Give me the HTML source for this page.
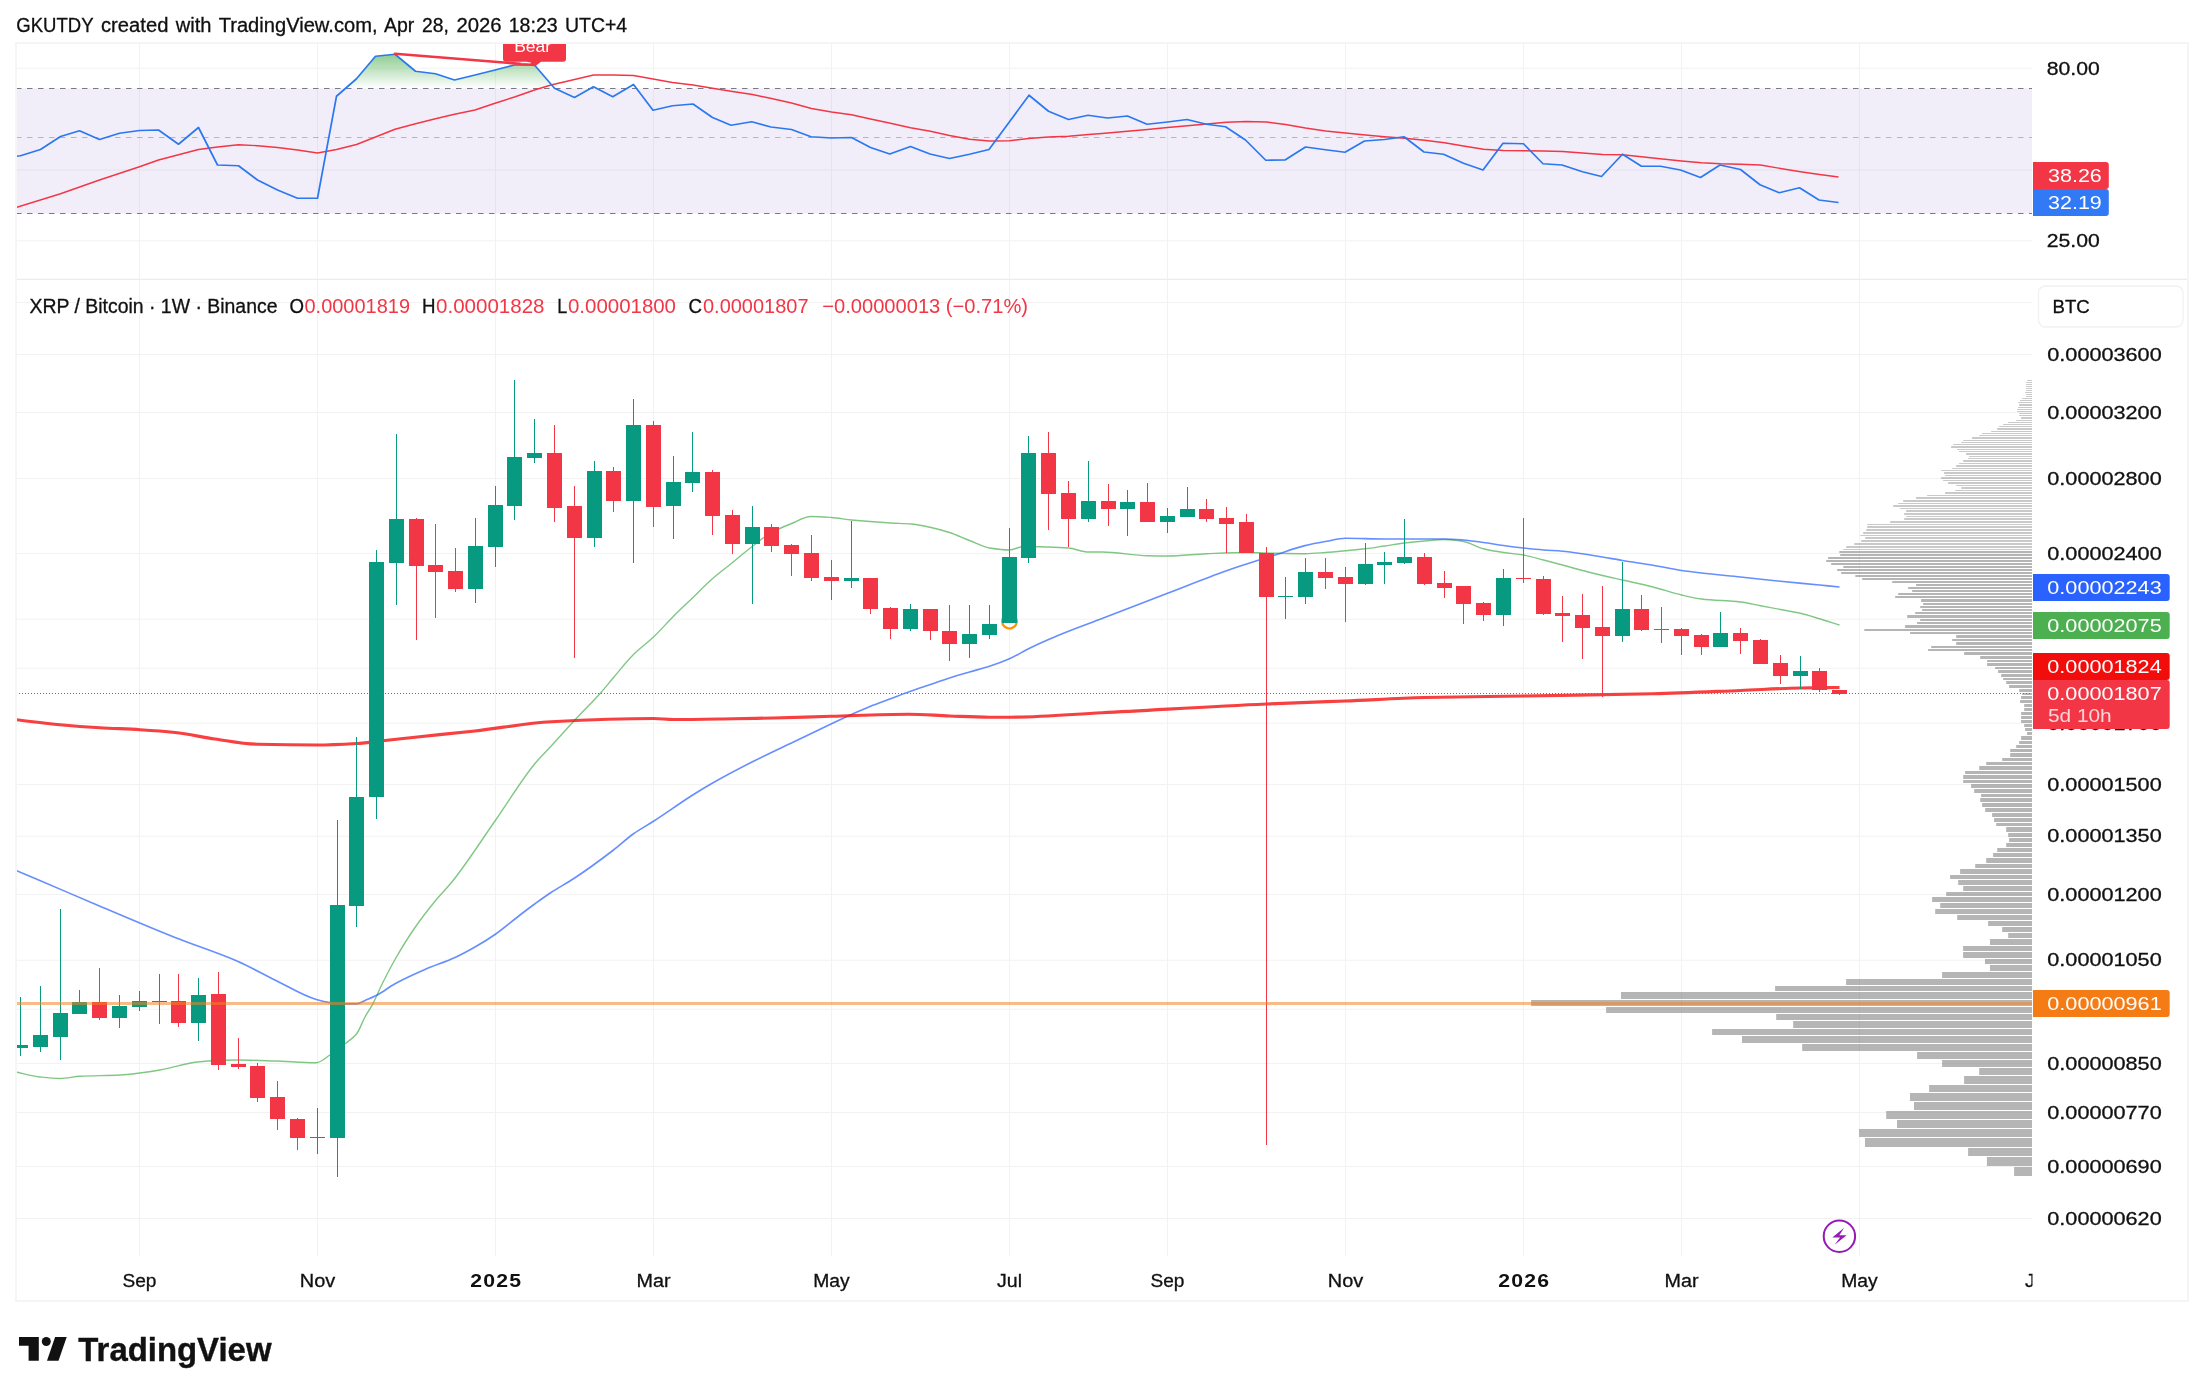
<!DOCTYPE html>
<html><head><meta charset="utf-8"><title>XRP / Bitcoin</title>
<style>html,body{margin:0;padding:0;background:#fff;overflow:hidden}svg{display:block;will-change:transform}</style></head>
<body>
<svg width="2204" height="1397" viewBox="0 0 2204 1397" font-family='"Liberation Sans", sans-serif'>
<defs>
<clipPath id="cpR"><rect x="16" y="43" width="2016" height="236"/></clipPath>
<clipPath id="cpM"><rect x="16" y="280" width="2016" height="977"/></clipPath>
<clipPath id="cpT"><rect x="16" y="1257" width="2016.5" height="43"/></clipPath>
<linearGradient id="gOB" gradientUnits="userSpaceOnUse" x1="0" y1="35" x2="0" y2="88.25"><stop offset="0" stop-color="#4caf50" stop-opacity="1"/><stop offset="1" stop-color="#4caf50" stop-opacity="0"/></linearGradient>
</defs>
<rect width="2204" height="1397" fill="#fff"/>
<g stroke="#f2f2f3" stroke-width="1">
<line x1="139.5" y1="44" x2="139.5" y2="1256.5"/>
<line x1="317.5" y1="44" x2="317.5" y2="1256.5"/>
<line x1="495.5" y1="44" x2="495.5" y2="1256.5"/>
<line x1="653.5" y1="44" x2="653.5" y2="1256.5"/>
<line x1="831.5" y1="44" x2="831.5" y2="1256.5"/>
<line x1="1009.5" y1="44" x2="1009.5" y2="1256.5"/>
<line x1="1167.5" y1="44" x2="1167.5" y2="1256.5"/>
<line x1="1345.5" y1="44" x2="1345.5" y2="1256.5"/>
<line x1="1523.5" y1="44" x2="1523.5" y2="1256.5"/>
<line x1="1681.5" y1="44" x2="1681.5" y2="1256.5"/>
<line x1="1859.5" y1="44" x2="1859.5" y2="1256.5"/>
<line x1="17" y1="68.25" x2="2032" y2="68.25"/>
<line x1="17" y1="170" x2="2032" y2="170"/>
<line x1="17" y1="240.75" x2="2032" y2="240.75"/>
<line x1="17" y1="302.5" x2="2032" y2="302.5"/>
<line x1="17" y1="354.5" x2="2032" y2="354.5"/>
<line x1="17" y1="412.5" x2="2032" y2="412.5"/>
<line x1="17" y1="478.5" x2="2032" y2="478.5"/>
<line x1="17" y1="553.5" x2="2032" y2="553.5"/>
<line x1="17" y1="619.25" x2="2032" y2="619.25"/>
<line x1="17" y1="668.25" x2="2032" y2="668.25"/>
<line x1="17" y1="723.25" x2="2032" y2="723.25"/>
<line x1="17" y1="784.5" x2="2032" y2="784.5"/>
<line x1="17" y1="836.25" x2="2032" y2="836.25"/>
<line x1="17" y1="894.5" x2="2032" y2="894.5"/>
<line x1="17" y1="960.25" x2="2032" y2="960.25"/>
<line x1="17" y1="1009.25" x2="2032" y2="1009.25"/>
<line x1="17" y1="1063.5" x2="2032" y2="1063.5"/>
<line x1="17" y1="1112.5" x2="2032" y2="1112.5"/>
<line x1="17" y1="1166.5" x2="2032" y2="1166.5"/>
<line x1="17" y1="1218.5" x2="2032" y2="1218.5"/>
</g>
<g clip-path="url(#cpR)">
<rect x="16" y="88.5" width="2016" height="125" fill="#7e57c2" fill-opacity="0.1"/>
<g stroke-width="1" stroke-dasharray="5.5 5.5" fill="none">
<line x1="16" y1="88.5" x2="2032" y2="88.5" stroke="#787b86"/>
<line x1="16" y1="137.5" x2="2032" y2="137.5" stroke="#787b86" stroke-opacity="0.5"/>
<line x1="16" y1="213.5" x2="2032" y2="213.5" stroke="#787b86"/>
</g>
<polygon points="345.643,88.25 356.5,78.75 375.5,56.25 395,54.25 415.5,71.25 435.5,73.75 454.5,80 475,75 495,70 514.5,65 534.5,65 554.5,88.25" fill="url(#gOB)"/>
<polygon points="590.849,88.25 593.5,86.75 596.388,88.25" fill="url(#gOB)"/>
<polygon points="627.148,88.25 633.5,84.5 636.34,88.25" fill="url(#gOB)"/>
<polyline points="16,207.5 60.5,193.75 99.5,180 139.5,166.75 158.5,160 198.5,149.5 217.5,147 238.5,144.75 257.5,145.75 277.5,147.5 297.5,150 317.5,153 336.5,149.5 356.5,144.5 375.5,137 395,129.25 415.5,123.75 435.5,118.75 454.5,114.25 475,110 495,103.25 514.5,97 534.5,90 551,85 574.5,79.5 593.5,75 613.5,75 633.5,75.5 653,79 672.5,82.5 693,85 712.5,88.25 732.5,91.5 752.5,94.5 771.5,98.5 791.5,103 811.5,108.5 831.5,112 851.5,114.75 870.5,119 890.5,123.25 910.5,127.75 930.5,131.25 949.5,135.5 969.5,139.25 989.5,141 1009.5,140.75 1028.5,138.5 1048.5,137 1068.5,136.25 1088.5,134.5 1102,133.5 1127.5,131.25 1147.5,129.5 1167.5,127.5 1187.5,125.75 1206.5,124 1226.5,122.25 1246.5,121.5 1266.5,122 1285.5,124.5 1305.5,128 1325.5,131 1345.5,133 1365.5,135 1384.5,136.75 1404.5,138.25 1424.5,140.25 1444.5,142.75 1463.5,146 1483.5,149.25 1503.5,150.5 1523.5,150.75 1543.5,151 1562.5,151.5 1582.5,153 1602.5,154.5 1622.5,154.75 1641.5,156.75 1653,158 1681.5,161 1701.5,162.75 1720.5,163.75 1740.5,164.25 1760.5,165 1780.5,168.5 1800.5,171.75 1819.5,174.5 1838.5,177" fill="none" stroke="#f23645" stroke-width="1.4" stroke-linejoin="round"/>
<polyline points="16,156.25 20.5,155.75 40.5,149.5 60.5,136.5 79.5,130.75 99.5,139.5 119.5,133.25 139.5,130.5 158.5,130 178.5,144.25 198.5,127.5 217.5,165 238.5,165.75 257.5,180 277.5,190 297.5,198.25 317.5,198.25 336.5,96.25 356.5,78.75 375.5,56.25 395,54.25 415.5,71.25 435.5,73.75 454.5,80 475,75 495,70 514.5,65 534.5,65 554.5,88.25 574.5,97.5 593.5,86.75 612.75,96.75 633.5,84.5 653,110.25 672.5,105.75 693,104 712.5,117.5 731,125.25 751.75,121.75 771,127 791.5,129.5 811,136.75 831.5,138 851.5,137.5 870.5,147.5 889.75,154 910.5,146.5 930,154 949.5,158.5 969.5,154.25 989,149.5 1009.5,121.75 1029,95.25 1048.5,111.25 1068.5,119.5 1088,115.25 1107.5,118 1127.5,116 1147,124.25 1167.5,122 1187,119.5 1206.5,124.25 1225.5,126.75 1245.5,140 1265.75,160.25 1285,160 1305.5,147 1325.5,149.75 1345,152.25 1364.5,141 1384.5,139.5 1404,136.75 1424,152 1443.5,154.25 1463.5,163.25 1483,170 1503,143.25 1523.5,143.75 1543,163.75 1562,165 1582.5,171.75 1601.5,176.5 1622.5,154.25 1641.5,166.25 1660.5,166.25 1680.5,170 1700.5,177.5 1720,165 1740.5,169.5 1760,184.75 1779.25,192.75 1799.5,187.75 1819,200 1838.5,202.5" fill="none" stroke="#2a78f0" stroke-width="1.7" stroke-linejoin="round"/>
<line x1="395" y1="53.8" x2="535" y2="65" stroke="#f23645" stroke-width="2.6" stroke-linecap="round"/>
<path d="M503 40 H566 V58.75 a3 3 0 0 1 -3 3 H541 L535.5 66 L527 61.75 H506 a3 3 0 0 1 -3 -3 Z" fill="#f23645"/>
<text x="514.2" y="51.5" font-size="17" fill="#fff" textLength="37" lengthAdjust="spacingAndGlyphs">Bear</text>
<rect x="520.7" y="62.2" width="10" height="1" fill="#fff" fill-opacity="0.85"/>
</g>
<g clip-path="url(#cpM)">
<path d="M2027.1 380H2032V381H2027.1ZM2026.1 382H2032V383H2026.1ZM2026.1 384H2032V385H2026.1ZM2026.1 386H2032V387H2026.1ZM2026.1 388H2032V389H2026.1ZM2026.1 390H2032V391H2026.1ZM2025.1 392H2032V393H2025.1ZM2026.1 394H2032V395H2026.1ZM2026.1 396H2032V397H2026.1ZM2022.2 398H2032V399H2022.2ZM2020.0 400H2032V401H2020.0ZM2018.2 402H2032V403H2018.2ZM2019.2 404H2032V406H2019.2ZM2018.2 407H2032V408H2018.2ZM2017.1 409H2032V410H2017.1ZM2017.1 411H2032V412H2017.1ZM2019.2 413H2032V414H2019.2ZM2019.2 415H2032V416H2019.2ZM2021.1 417H2032V419H2021.1ZM2016.2 420H2032V421H2016.2ZM2008.2 422H2032V423H2008.2ZM2003.1 424H2032V425H2003.1ZM1999.1 426H2032V427H1999.1ZM1997.2 428H2032V430H1997.2ZM1991.2 431H2032V432H1991.2ZM1982.1 433H2032V434H1982.1ZM1979.2 435H2032V436H1979.2ZM1972.1 437H2032V439H1972.1ZM1963.2 440H2032V441H1963.2ZM1961.2 442H2032V443H1961.2ZM1953.2 444H2032V445H1953.2ZM1951.2 446H2032V448H1951.2ZM1957.2 449H2032V450H1957.2ZM1959.1 451H2032V452H1959.1ZM1966.1 453H2032V455H1966.1ZM1969.2 456H2032V457H1969.2ZM1968.2 458H2032V459H1968.2ZM1963.2 460H2032V462H1963.2ZM1959.1 463H2032V464H1959.1ZM1956.2 465H2032V467H1956.2ZM1952.2 468H2032V469H1952.2ZM1941.2 470H2032V471H1941.2ZM1944.1 472H2032V474H1944.1ZM1945.1 475H2032V476H1945.1ZM1941.2 477H2032V479H1941.2ZM1943.1 480H2032V481H1943.1ZM1948.1 482H2032V484H1948.1ZM1956.2 485H2032V486H1956.2ZM1961.2 487H2032V489H1961.2ZM1955.2 490H2032V491H1955.2ZM1945.1 492H2032V494H1945.1ZM1927.1 495H2032V496H1927.1ZM1916.1 497H2032V499H1916.1ZM1903.2 500H2032V502H1903.2ZM1898.2 503H2032V504H1898.2ZM1893.2 505H2032V507H1893.2ZM1900.1 508H2032V509H1900.1ZM1906.2 510H2032V512H1906.2ZM1904.2 513H2032V515H1904.2ZM1906.2 516H2032V517H1906.2ZM1904.2 518H2032V520H1904.2ZM1890.2 521H2032V523H1890.2ZM1867.2 524H2032V525H1867.2ZM1867.2 526H2032V528H1867.2ZM1866.3 529H2032V531H1866.3ZM1863.2 532H2032V534H1863.2ZM1860.3 535H2032V536H1860.3ZM1865.2 537H2032V539H1865.2ZM1861.2 540H2032V542H1861.2ZM1854.3 543H2032V545H1854.3ZM1846.2 546H2032V548H1846.2ZM1843.3 549H2032V550H1843.3Z" fill="#848484" fill-opacity="0.44"/>
<path d="M1839.3 551H2032V553H1839.3ZM1840.2 554H2032V556H1840.2ZM1828.1 557H2032V559H1828.1ZM1826.2 560H2032V562H1826.2ZM1831.2 563H2032V565H1831.2ZM1843.3 566H2032V568H1843.3ZM1837.2 569H2032V571H1837.2ZM1841.2 572H2032V574H1841.2ZM1855.3 575H2032V577H1855.3ZM1862.2 578H2032V580H1862.2ZM1892.2 581H2032V583H1892.2ZM1916.1 584H2032V586H1916.1ZM1908.2 587H2032V589H1908.2ZM1912.2 590H2032V592H1912.2ZM1898.2 593H2032V595H1898.2ZM1895.2 596H2032V598H1895.2ZM1921.1 599H2032V602H1921.1ZM1923.1 603H2032V605H1923.1ZM1920.2 606H2032V608H1920.2ZM1922.1 609H2032V611H1922.1ZM1915.2 612H2032V614H1915.2ZM1907.2 615H2032V618H1907.2ZM1920.2 619H2032V621H1920.2ZM1917.1 622H2032V624H1917.1ZM1905.1 625H2032V628H1905.1ZM1864.3 629H2032V631H1864.3ZM1910.1 632H2032V634H1910.1ZM1956.2 635H2032V638H1956.2ZM1952.2 639H2032V641H1952.2ZM1956.2 642H2032V645H1956.2ZM1931.2 646H2032V648H1931.2ZM1928.1 649H2032V651H1928.1ZM1964.2 652H2032V655H1964.2ZM1980.2 656H2032V659H1980.2ZM1987.1 660H2032V662H1987.1ZM1987.1 663H2032V666H1987.1ZM1995.1 667H2032V669H1995.1ZM1998.1 670H2032V673H1998.1ZM2001.2 674H2032V677H2001.2ZM2003.1 678H2032V680H2003.1ZM2006.2 681H2032V684H2006.2ZM2009.1 685H2032V688H2009.1ZM2019.2 689H2032V692H2019.2ZM2022.2 693H2032V695H2022.2ZM2021.1 696H2032V699H2021.1ZM2020.1 700H2032V703H2020.1ZM2024.2 704H2032V707H2024.2ZM2024.2 708H2032V711H2024.2ZM2021.1 712H2032V715H2021.1ZM2021.1 716H2032V719H2021.1ZM2021.1 720H2032V723H2021.1ZM2024.2 724H2032V727H2024.2ZM2025.1 728H2032V731H2025.1ZM2027.1 732H2032V735H2027.1ZM2021.1 736H2032V740H2021.1ZM2019.2 741H2032V744H2019.2ZM2016.2 745H2032V748H2016.2ZM2010.2 749H2032V752H2010.2ZM2010.2 753H2032V757H2010.2ZM2002.2 758H2032V761H2002.2ZM1986.2 762H2032V765H1986.2ZM1979.2 766H2032V770H1979.2ZM1965.1 771H2032V774H1965.1ZM1963.2 775H2032V779H1963.2ZM1963.2 780H2032V783H1963.2ZM1971.1 784H2032V788H1971.1ZM1974.2 789H2032V793H1974.2ZM1981.1 794H2032V797H1981.1ZM1980.2 798H2032V802H1980.2ZM1982.1 803H2032V807H1982.1ZM1985.2 808H2032V812H1985.2ZM1992.1 813H2032V817H1992.1ZM1994.1 818H2032V822H1994.1ZM1996.2 823H2032V826H1996.2ZM2006.2 827H2032V832H2006.2ZM2008.2 833H2032V837H2008.2ZM2009.1 838H2032V842H2009.1ZM2006.2 843H2032V847H2006.2ZM1997.2 848H2032V852H1997.2ZM1993.1 853H2032V857H1993.1ZM1986.2 858H2032V863H1986.2ZM1975.2 864H2032V868H1975.2ZM1960.1 869H2032V874H1960.1ZM1950.1 875H2032V879H1950.1ZM1958.2 880H2032V885H1958.2ZM1963.2 886H2032V891H1963.2ZM1946.2 892H2032V896H1946.2ZM1932.1 897H2032V902H1932.1ZM1940.2 903H2032V908H1940.2ZM1935.2 909H2032V914H1935.2ZM1957.2 915H2032V920H1957.2ZM1988.1 921H2032V926H1988.1ZM2002.2 927H2032V932H2002.2ZM2008.2 933H2032V938H2008.2ZM1990.0 939H2032V945H1990.0ZM1963.1 946H2032V951H1963.1ZM1963.1 952H2032V958H1963.1ZM1985.0 959H2032V964H1985.0ZM1990.0 965H2032V971H1990.0ZM1942.1 972H2032V978H1942.1ZM1846.1 979H2032V985H1846.1ZM1775.1 986H2032V991H1775.1ZM1621.0 992H2032V999H1621.0ZM1531.1 1000H2032V1006H1531.1ZM1606.1 1007H2032V1013H1606.1ZM1776.2 1014H2032V1020H1776.2ZM1793.2 1021H2032V1028H1793.2ZM1712.1 1029H2032V1035H1712.1ZM1742.0 1036H2032V1043H1742.0ZM1802.2 1044H2032V1051H1802.2ZM1917.1 1052H2032V1059H1917.1ZM1942.1 1060H2032V1067H1942.1ZM1979.2 1068H2032V1075H1979.2ZM1964.1 1076H2032V1084H1964.1ZM1929.1 1085H2032V1092H1929.1ZM1910.0 1093H2032V1101H1910.0ZM1914.0 1102H2032V1110H1914.0ZM1886.2 1111H2032V1119H1886.2ZM1897.0 1120H2032V1128H1897.0ZM1859.1 1129H2032V1137H1859.1ZM1865.0 1138H2032V1147H1865.0ZM1968.1 1148H2032V1156H1968.1ZM1986.9 1157H2032V1166H1986.9ZM2014.1 1167H2032V1176H2014.1Z" fill="#848484" fill-opacity="0.6"/>
<path d="M16 1072C24.00 1073.67 32.00 1076.13 40 1077C46.67 1077.72 53.33 1078.50 60 1078.5C66.67 1078.50 73.33 1076.60 80 1076.25C93.33 1075.55 106.67 1075.67 120 1075C126.67 1074.66 133.33 1073.80 140 1073C146.67 1072.20 153.33 1071.15 160 1070C172.50 1067.84 185.00 1063.28 197.5 1062C204.50 1061.28 211.50 1060.77 218.5 1060.5C224.83 1060.26 231.17 1060.00 237.5 1060C250.00 1060.00 262.50 1060.59 275 1061C288.75 1061.45 302.50 1062.75 316.25 1062.75C320.83 1062.75 325.42 1057.94 330 1055C335.00 1051.79 340.00 1047.74 345 1043.75C348.83 1040.69 352.67 1038.66 356.5 1034C359.33 1030.56 362.17 1022.16 365 1017C367.57 1012.33 370.13 1008.91 372.7 1004.1C375.63 998.61 378.57 991.24 381.5 985.3C386.00 976.19 390.50 967.38 395 959.5C401.67 947.82 408.33 937.11 415 927.5C421.67 917.89 428.33 909.38 435 901.25C440.83 894.13 446.67 888.52 452.5 881.25C466.67 863.59 480.83 841.22 495 821C508.33 801.97 521.67 779.60 535 763.5C540.33 757.06 545.67 752.05 551 746.25C559.33 737.18 567.67 727.70 576 718.75C584.33 709.80 592.67 701.90 601 692.5C605.17 687.80 609.33 682.40 613.5 677.5C620.17 669.66 626.83 661.13 633.5 654.5C640.17 647.87 646.83 643.33 653.5 637C660.17 630.67 666.83 622.91 673.5 616.25C680.17 609.59 686.83 603.45 693.5 597C699.33 591.36 705.17 585.17 711 580C717.67 574.09 724.33 569.17 731 563.75C738.17 557.92 745.33 551.73 752.5 546.25C758.83 541.40 765.17 536.01 771.5 532.5C778.00 528.90 784.50 526.36 791 523.75C797.67 521.08 804.33 516.50 811 516.5C817.83 516.50 824.67 517.02 831.5 517.5C838.17 517.97 844.83 519.35 851.5 520C864.67 521.28 877.83 522.22 891 523C897.67 523.39 904.33 523.48 911 524C917.67 524.52 924.33 526.08 931 527.5C937.17 528.81 943.33 530.52 949.5 532.5C956.17 534.65 962.83 537.92 969.5 540.5C976.17 543.08 982.83 546.95 989.5 548C996.17 549.05 1002.83 550.00 1009.5 550C1014.17 550.00 1018.83 546.50 1023.5 546.5C1031.83 546.50 1040.17 546.76 1048.5 547C1055.17 547.19 1061.83 547.47 1068.5 548C1075.17 548.53 1081.83 552.00 1088.5 552C1093.00 552.00 1097.50 552.00 1102 552C1117.17 552.00 1132.33 555.45 1147.5 555.75C1154.17 555.88 1160.83 556.00 1167.5 556C1180.50 556.00 1193.50 554.28 1206.5 553.75C1219.83 553.21 1233.17 552.50 1246.5 552.5C1253.17 552.50 1259.83 552.85 1266.5 553C1279.50 553.29 1292.50 553.75 1305.5 553.75C1312.17 553.75 1318.83 552.99 1325.5 552.5C1332.17 552.01 1338.83 551.37 1345.5 550.75C1352.17 550.13 1358.83 549.54 1365.5 548.75C1371.83 548.00 1378.17 546.93 1384.5 546C1391.17 545.02 1397.83 543.80 1404.5 543C1411.17 542.20 1417.83 541.57 1424.5 541C1431.17 540.43 1437.83 539.50 1444.5 539.5C1450.83 539.50 1457.17 540.47 1463.5 541.5C1470.17 542.58 1476.83 547.10 1483.5 548.75C1490.17 550.40 1496.83 551.50 1503.5 552.5C1510.17 553.50 1516.83 553.89 1523.5 555C1530.17 556.11 1536.83 558.29 1543.5 560C1549.83 561.62 1556.17 563.30 1562.5 565C1569.17 566.79 1575.83 568.75 1582.5 570.5C1589.17 572.25 1595.83 573.92 1602.5 575.5C1609.17 577.08 1615.83 578.49 1622.5 580C1632.67 582.31 1642.83 584.43 1653 587C1662.50 589.40 1672.00 592.80 1681.5 595C1688.17 596.54 1694.83 598.22 1701.5 599C1714.50 600.52 1727.50 600.52 1740.5 602C1747.17 602.76 1753.83 604.50 1760.5 605.75C1767.17 607.00 1773.83 608.25 1780.5 609.5C1787.17 610.75 1793.83 611.73 1800.5 613.25C1806.83 614.69 1813.17 616.85 1819.5 618.75C1826.17 620.75 1832.83 622.92 1839.5 625" fill="none" stroke="#4caf50" stroke-opacity="0.7" stroke-width="1.4" stroke-linejoin="round"/>
<path d="M16 870.5C23.17 873.50 30.33 876.47 37.5 879.5C58.33 888.30 79.17 897.45 100 906.25C125.00 916.81 150.00 927.58 175 937.5C195.83 945.77 216.67 952.15 237.5 961.25C250.00 966.71 262.50 973.92 275 980C288.75 986.69 302.50 995.54 316.25 999.5C320.83 1000.82 325.42 1002.00 330 1002.6C334.67 1003.21 339.33 1003.90 344 1003.9C348.17 1003.90 352.33 1003.90 356.5 1003.9C359.40 1003.90 362.30 1001.64 365.2 1000.4C369.37 998.63 373.53 996.89 377.7 994.7C383.47 991.67 389.23 986.92 395 983.75C405.00 978.25 415.00 973.84 425 969.5C435.00 965.16 445.00 962.08 455 957.5C461.67 954.45 468.33 950.80 475 947C481.67 943.20 488.33 939.11 495 934.5C503.33 928.74 511.67 921.36 520 915C525.00 911.18 530.00 907.38 535 903.75C540.33 899.88 545.67 896.00 551 892.5C558.50 887.58 566.00 883.67 573.5 878.75C586.83 870.01 600.17 860.24 613.5 850C620.17 844.88 626.83 838.46 633.5 833.75C640.17 829.04 646.83 825.54 653.5 821.25C666.83 812.67 680.17 802.88 693.5 794.5C700.17 790.31 706.83 786.28 713.5 782.5C726.83 774.94 740.17 767.98 753.5 761.25C766.83 754.52 780.17 748.41 793.5 742C806.17 735.91 818.83 729.71 831.5 723.75C838.17 720.61 844.83 717.49 851.5 714.5C857.83 711.66 864.17 708.80 870.5 706.25C877.17 703.57 883.83 701.25 890.5 698.75C897.17 696.25 903.83 693.62 910.5 691.25C917.17 688.88 923.83 686.77 930.5 684.5C936.83 682.35 943.17 680.03 949.5 678C956.17 675.87 962.83 673.96 969.5 672C976.17 670.04 982.83 668.42 989.5 666.25C996.17 664.08 1002.83 661.67 1009.5 658.75C1015.83 655.97 1022.17 651.87 1028.5 648.75C1035.17 645.47 1041.83 642.41 1048.5 639.5C1055.17 636.59 1061.83 633.89 1068.5 631.25C1079.67 626.83 1090.83 622.86 1102 618.6C1123.83 610.27 1145.67 601.70 1167.5 593.3C1187.17 585.74 1206.83 577.58 1226.5 570.7C1237.33 566.91 1248.17 563.60 1259 560.1C1264.83 558.22 1270.67 556.35 1276.5 554.5C1285.67 551.60 1294.83 548.15 1304 545.9C1311.50 544.06 1319.00 542.63 1326.5 541.3C1332.83 540.18 1339.17 538.30 1345.5 538.3C1358.50 538.30 1371.50 539.00 1384.5 539C1397.83 539.00 1411.17 539.00 1424.5 539C1431.17 539.00 1437.83 539.00 1444.5 539C1450.83 539.00 1457.17 539.53 1463.5 540C1470.17 540.49 1476.83 541.59 1483.5 542.5C1490.17 543.41 1496.83 544.59 1503.5 545.5C1510.17 546.41 1516.83 547.26 1523.5 548C1530.17 548.74 1536.83 549.47 1543.5 550C1549.83 550.50 1556.17 550.71 1562.5 551.25C1569.17 551.82 1575.83 552.81 1582.5 553.75C1589.17 554.69 1595.83 555.88 1602.5 557C1609.17 558.12 1615.83 559.40 1622.5 560.5C1632.67 562.18 1642.83 563.53 1653 565.25C1662.50 566.85 1672.00 569.10 1681.5 570.5C1688.17 571.48 1694.83 572.24 1701.5 573C1714.50 574.48 1727.50 575.64 1740.5 577C1753.83 578.39 1767.17 579.90 1780.5 581.25C1793.50 582.56 1806.50 583.72 1819.5 585C1826.17 585.65 1832.83 586.33 1839.5 587" fill="none" stroke="#2962ff" stroke-opacity="0.72" stroke-width="1.6" stroke-linejoin="round"/>
<path d="M16 719.75C30.67 721.42 45.33 723.43 60 724.75C73.33 725.95 86.67 726.95 100 727.75C113.33 728.55 126.67 728.93 140 729.75C151.67 730.47 163.33 731.27 175 732.5C188.33 733.90 201.67 737.13 215 739C229.17 740.99 243.33 743.91 257.5 744.25C277.50 744.73 297.50 745.00 317.5 745C330.50 745.00 343.50 744.25 356.5 743.5C366.00 742.95 375.50 741.51 385 740.5C395.00 739.43 405.00 738.31 415 737.25C435.00 735.12 455.00 733.24 475 731C500.33 728.16 525.67 723.06 551 721.75C585.17 719.98 619.33 718.50 653.5 718.5C660.17 718.50 666.83 719.50 673.5 719.5C693.50 719.50 713.50 719.05 733.5 718.75C746.83 718.55 760.17 718.30 773.5 718C792.83 717.56 812.17 716.79 831.5 716.25C857.17 715.53 882.83 714.25 908.5 714.25C922.17 714.25 935.83 715.51 949.5 716C962.83 716.48 976.17 717.25 989.5 717.25C996.17 717.25 1002.83 717.25 1009.5 717.25C1040.33 717.25 1071.17 714.31 1102 712.75C1156.83 709.97 1211.67 706.38 1266.5 704C1292.83 702.86 1319.17 702.08 1345.5 701C1371.83 699.92 1398.17 698.11 1424.5 697.5C1457.50 696.74 1490.50 696.53 1523.5 696C1566.67 695.30 1609.83 694.80 1653 693.75C1682.17 693.04 1711.33 691.65 1740.5 690.5C1760.50 689.71 1780.50 688.38 1800.5 688C1813.50 687.75 1826.50 687.67 1839.5 687.5" fill="none" stroke="#f50a0a" stroke-opacity="0.78" stroke-width="3.2" stroke-linejoin="round"/>
<circle cx="1009.5" cy="621.3" r="7.3" fill="none" stroke="#ff9800" stroke-width="2.4"/>
<path d="M20 997h1V1056h-1ZM40 986h1V1052h-1ZM60 909h1V1060h-1ZM79 990h1V1014h-1ZM119 995h1V1028h-1ZM139 991h1V1011h-1ZM159 974h1V1024h-1ZM198 978h1V1041h-1ZM317 1108h1V1154h-1ZM337 820h1V1177h-1ZM356 737h1V927h-1ZM376 550h1V819h-1ZM396 434h1V605h-1ZM475 518h1V603h-1ZM495 486h1V567h-1ZM514 380h1V520h-1ZM534 419h1V463h-1ZM594 461h1V547h-1ZM633 399h1V563h-1ZM673 456h1V539h-1ZM692 432h1V492h-1ZM752 506h1V604h-1ZM851 521h1V588h-1ZM910 604h1V631h-1ZM969 605h1V658h-1ZM989 605h1V639h-1ZM1009 528h1V623h-1ZM1028 436h1V563h-1ZM1088 461h1V522h-1ZM1127 490h1V536h-1ZM1167 508h1V533h-1ZM1187 487h1V517h-1ZM1285 577h1V619h-1ZM1305 558h1V604h-1ZM1365 543h1V585h-1ZM1384 552h1V584h-1ZM1404 519h1V564h-1ZM1503 569h1V626h-1ZM1622 562h1V642h-1ZM1720 612h1V647h-1ZM1800 656h1V689h-1ZM13 1045h15V1048h-15ZM33 1035h15V1047h-15ZM53 1013h15V1037h-15ZM72 1002h15V1014h-15ZM112 1006h15V1018h-15ZM132 1001h15V1007h-15ZM152 1001h15V1002h-15ZM191 995h15V1023h-15ZM310 1137h15V1138h-15ZM330 905h15V1138h-15ZM349 797h15V906h-15ZM369 562h15V797h-15ZM389 519h15V563h-15ZM468 546h15V589h-15ZM488 505h15V547h-15ZM507 457h15V506h-15ZM527 453h15V458h-15ZM587 471h15V538h-15ZM626 425h15V501h-15ZM666 482h15V506h-15ZM685 472h15V483h-15ZM745 527h15V544h-15ZM844 578h15V581h-15ZM903 609h15V629h-15ZM962 634h15V644h-15ZM982 624h15V635h-15ZM1002 557h15V623h-15ZM1021 453h15V558h-15ZM1081 501h15V519h-15ZM1120 502h15V509h-15ZM1160 516h15V522h-15ZM1180 509h15V517h-15ZM1278 596h15V597h-15ZM1298 572h15V597h-15ZM1358 564h15V584h-15ZM1377 562h15V565h-15ZM1397 557h15V563h-15ZM1496 578h15V615h-15ZM1615 609h15V636h-15ZM1713 633h15V647h-15ZM1793 671h15V676h-15Z" fill="#089981"/>
<path d="M99 968h1V1020h-1ZM178 974h1V1027h-1ZM218 972h1V1070h-1ZM238 1038h1V1069h-1ZM257 1063h1V1102h-1ZM277 1081h1V1130h-1ZM297 1118h1V1150h-1ZM416 518h1V640h-1ZM435 524h1V618h-1ZM455 548h1V592h-1ZM554 425h1V522h-1ZM574 486h1V658h-1ZM613 467h1V512h-1ZM653 421h1V527h-1ZM712 470h1V535h-1ZM732 510h1V554h-1ZM771 524h1V552h-1ZM791 544h1V576h-1ZM811 535h1V581h-1ZM831 560h1V600h-1ZM870 578h1V614h-1ZM890 607h1V639h-1ZM930 609h1V640h-1ZM949 605h1V661h-1ZM1048 432h1V530h-1ZM1068 481h1V547h-1ZM1108 484h1V526h-1ZM1147 483h1V522h-1ZM1206 499h1V522h-1ZM1226 507h1V553h-1ZM1246 514h1V553h-1ZM1266 547h1V1145h-1ZM1325 558h1V589h-1ZM1345 567h1V622h-1ZM1424 553h1V585h-1ZM1444 571h1V598h-1ZM1463 586h1V624h-1ZM1483 602h1V621h-1ZM1523 518h1V583h-1ZM1543 576h1V615h-1ZM1562 596h1V642h-1ZM1582 594h1V659h-1ZM1602 586h1V697h-1ZM1641 595h1V631h-1ZM1661 607h1V643h-1ZM1681 628h1V655h-1ZM1701 634h1V655h-1ZM1740 628h1V654h-1ZM1760 639h1V664h-1ZM1780 655h1V684h-1ZM1819 668h1V692h-1ZM1839 690h1V695h-1ZM92 1002h15V1018h-15ZM171 1001h15V1023h-15ZM211 994h15V1065h-15ZM231 1064h15V1067h-15ZM250 1066h15V1098h-15ZM270 1097h15V1119h-15ZM290 1119h15V1138h-15ZM409 519h15V566h-15ZM428 565h15V572h-15ZM448 571h15V589h-15ZM547 453h15V508h-15ZM567 506h15V538h-15ZM606 471h15V501h-15ZM646 425h15V507h-15ZM705 472h15V516h-15ZM725 515h15V544h-15ZM764 527h15V546h-15ZM784 545h15V554h-15ZM804 553h15V578h-15ZM824 577h15V581h-15ZM863 578h15V609h-15ZM883 608h15V629h-15ZM923 609h15V631h-15ZM942 631h15V644h-15ZM1041 453h15V494h-15ZM1061 493h15V519h-15ZM1101 501h15V509h-15ZM1140 502h15V522h-15ZM1199 509h15V519h-15ZM1219 518h15V524h-15ZM1239 522h15V553h-15ZM1259 553h15V597h-15ZM1318 572h15V578h-15ZM1338 577h15V584h-15ZM1417 557h15V584h-15ZM1437 583h15V588h-15ZM1456 586h15V604h-15ZM1476 603h15V615h-15ZM1516 578h15V579h-15ZM1536 579h15V614h-15ZM1555 613h15V616h-15ZM1575 615h15V628h-15ZM1595 627h15V636h-15ZM1634 609h15V630h-15ZM1654 629h15V630h-15ZM1674 629h15V636h-15ZM1694 635h15V647h-15ZM1733 633h15V641h-15ZM1753 640h15V664h-15ZM1773 663h15V676h-15ZM1812 671h15V690h-15ZM1832 690h15V694h-15Z" fill="#f23645"/>
<line x1="16" y1="693.5" x2="2032" y2="693.5" stroke="#f23645" stroke-width="1" stroke-dasharray="1 2"/>
<rect x="16" y="1002" width="2016" height="3" fill="#f58220" fill-opacity="0.55"/>
</g>
<text x="29.5" y="312.5" font-size="20" fill="#101010" textLength="248" lengthAdjust="spacingAndGlyphs" stroke="#101010" stroke-width="0.3">XRP / Bitcoin · 1W · Binance</text>
<text x="289.5" y="312.5" font-size="20" fill="#101010" textLength="14.5" lengthAdjust="spacingAndGlyphs" stroke="#101010" stroke-width="0.3">O</text>
<text x="304.5" y="312.5" font-size="20" fill="#f23645" textLength="105.5" lengthAdjust="spacingAndGlyphs">0.00001819</text>
<text x="422" y="312.5" font-size="20" fill="#101010" textLength="13.5" lengthAdjust="spacingAndGlyphs" stroke="#101010" stroke-width="0.3">H</text>
<text x="436" y="312.5" font-size="20" fill="#f23645" textLength="108.5" lengthAdjust="spacingAndGlyphs">0.00001828</text>
<text x="557.25" y="312.5" font-size="20" fill="#101010" textLength="10" lengthAdjust="spacingAndGlyphs" stroke="#101010" stroke-width="0.3">L</text>
<text x="568" y="312.5" font-size="20" fill="#f23645" textLength="108" lengthAdjust="spacingAndGlyphs">0.00001800</text>
<text x="688.5" y="312.5" font-size="20" fill="#101010" textLength="13.5" lengthAdjust="spacingAndGlyphs" stroke="#101010" stroke-width="0.3">C</text>
<text x="703" y="312.5" font-size="20" fill="#f23645" textLength="105.5" lengthAdjust="spacingAndGlyphs">0.00001807</text>
<text x="822.25" y="312.5" font-size="20" fill="#f23645" textLength="205.75" lengthAdjust="spacingAndGlyphs">−0.00000013 (−0.71%)</text>
<text x="16.3" y="32.3" font-size="20" fill="#101010" textLength="77.2" lengthAdjust="spacingAndGlyphs" stroke="#101010" stroke-width="0.3">GKUTDY</text>
<text x="101" y="32.3" font-size="20" fill="#101010" textLength="67.4" lengthAdjust="spacingAndGlyphs" stroke="#101010" stroke-width="0.3">created</text>
<text x="175.7" y="32.3" font-size="20" fill="#101010" textLength="35.7" lengthAdjust="spacingAndGlyphs" stroke="#101010" stroke-width="0.3">with</text>
<text x="218.7" y="32.3" font-size="20" fill="#101010" textLength="158.8" lengthAdjust="spacingAndGlyphs" stroke="#101010" stroke-width="0.3">TradingView.com,</text>
<text x="384" y="32.3" font-size="20" fill="#101010" textLength="30.3" lengthAdjust="spacingAndGlyphs" stroke="#101010" stroke-width="0.3">Apr</text>
<text x="422" y="32.3" font-size="20" fill="#101010" textLength="26.8" lengthAdjust="spacingAndGlyphs" stroke="#101010" stroke-width="0.3">28,</text>
<text x="456.4" y="32.3" font-size="20" fill="#101010" textLength="45.1" lengthAdjust="spacingAndGlyphs" stroke="#101010" stroke-width="0.3">2026</text>
<text x="508.7" y="32.3" font-size="20" fill="#101010" textLength="49" lengthAdjust="spacingAndGlyphs" stroke="#101010" stroke-width="0.3">18:23</text>
<text x="565" y="32.3" font-size="20" fill="#101010" textLength="62.2" lengthAdjust="spacingAndGlyphs" stroke="#101010" stroke-width="0.3">UTC+4</text>
<text x="2047.3" y="360.723" font-size="18.5" fill="#101010" textLength="114.4" lengthAdjust="spacingAndGlyphs" stroke="#101010" stroke-width="0.3">0.00003600</text>
<text x="2047.3" y="418.723" font-size="18.5" fill="#101010" textLength="114.4" lengthAdjust="spacingAndGlyphs" stroke="#101010" stroke-width="0.3">0.00003200</text>
<text x="2047.3" y="484.723" font-size="18.5" fill="#101010" textLength="114.4" lengthAdjust="spacingAndGlyphs" stroke="#101010" stroke-width="0.3">0.00002800</text>
<text x="2047.3" y="559.723" font-size="18.5" fill="#101010" textLength="114.4" lengthAdjust="spacingAndGlyphs" stroke="#101010" stroke-width="0.3">0.00002400</text>
<text x="2047.3" y="730.223" font-size="18.5" fill="#101010" textLength="114.4" lengthAdjust="spacingAndGlyphs" stroke="#101010" stroke-width="0.3">0.00001700</text>
<text x="2047.3" y="790.723" font-size="18.5" fill="#101010" textLength="114.4" lengthAdjust="spacingAndGlyphs" stroke="#101010" stroke-width="0.3">0.00001500</text>
<text x="2047.3" y="842.473" font-size="18.5" fill="#101010" textLength="114.4" lengthAdjust="spacingAndGlyphs" stroke="#101010" stroke-width="0.3">0.00001350</text>
<text x="2047.3" y="900.723" font-size="18.5" fill="#101010" textLength="114.4" lengthAdjust="spacingAndGlyphs" stroke="#101010" stroke-width="0.3">0.00001200</text>
<text x="2047.3" y="966.473" font-size="18.5" fill="#101010" textLength="114.4" lengthAdjust="spacingAndGlyphs" stroke="#101010" stroke-width="0.3">0.00001050</text>
<text x="2047.3" y="1069.72" font-size="18.5" fill="#101010" textLength="114.4" lengthAdjust="spacingAndGlyphs" stroke="#101010" stroke-width="0.3">0.00000850</text>
<text x="2047.3" y="1118.72" font-size="18.5" fill="#101010" textLength="114.4" lengthAdjust="spacingAndGlyphs" stroke="#101010" stroke-width="0.3">0.00000770</text>
<text x="2047.3" y="1172.72" font-size="18.5" fill="#101010" textLength="114.4" lengthAdjust="spacingAndGlyphs" stroke="#101010" stroke-width="0.3">0.00000690</text>
<text x="2047.3" y="1224.72" font-size="18.5" fill="#101010" textLength="114.4" lengthAdjust="spacingAndGlyphs" stroke="#101010" stroke-width="0.3">0.00000620</text>
<text x="2046.75" y="75.123" font-size="18.5" fill="#101010" textLength="53" lengthAdjust="spacingAndGlyphs" stroke="#101010" stroke-width="0.3">80.00</text>
<text x="2046.75" y="247.373" font-size="18.5" fill="#101010" textLength="53" lengthAdjust="spacingAndGlyphs" stroke="#101010" stroke-width="0.3">25.00</text>
<path d="M2033 162H2105.8a3 3 0 0 1 3 3V186a3 3 0 0 1 -3 3H2033Z" fill="#f23645"/>
<text x="2048" y="181.923" font-size="18.5" fill="#fff" textLength="53.8" lengthAdjust="spacingAndGlyphs">38.26</text>
<path d="M2033 189H2105.8a3 3 0 0 1 3 3V213a3 3 0 0 1 -3 3H2033Z" fill="#3179f5"/>
<text x="2048" y="208.923" font-size="18.5" fill="#fff" textLength="53.8" lengthAdjust="spacingAndGlyphs">32.19</text>
<path d="M2033 574H2166.7a3 3 0 0 1 3 3V598a3 3 0 0 1 -3 3H2033Z" fill="#2962ff"/>
<text x="2047.3" y="593.723" font-size="18.5" fill="#fff" textLength="114.4" lengthAdjust="spacingAndGlyphs">0.00002243</text>
<path d="M2033 612H2166.7a3 3 0 0 1 3 3V636a3 3 0 0 1 -3 3H2033Z" fill="#4caf50"/>
<text x="2047.3" y="631.723" font-size="18.5" fill="#fff" textLength="114.4" lengthAdjust="spacingAndGlyphs">0.00002075</text>
<path d="M2033 653H2166.7a3 3 0 0 1 3 3V677a3 3 0 0 1 -3 3H2033Z" fill="#f20d0d"/>
<text x="2047.3" y="672.723" font-size="18.5" fill="#fff" textLength="114.4" lengthAdjust="spacingAndGlyphs">0.00001824</text>
<path d="M2033 680H2166.7a3 3 0 0 1 3 3V725.9a3 3 0 0 1 -3 3H2033Z" fill="#f23645"/>
<text x="2047.3" y="699.723" font-size="18.5" fill="#fff" textLength="114.4" lengthAdjust="spacingAndGlyphs">0.00001807</text>
<text x="2048" y="722.123" font-size="18.5" fill="#fff" textLength="63.7" lengthAdjust="spacingAndGlyphs" fill-opacity="0.8">5d 10h</text>
<path d="M2033 990H2166.7a3 3 0 0 1 3 3V1014a3 3 0 0 1 -3 3H2033Z" fill="#f57c14"/>
<text x="2047.3" y="1009.72" font-size="18.5" fill="#fff" textLength="114.4" lengthAdjust="spacingAndGlyphs">0.00000961</text>
<rect x="2038.5" y="286" width="144.5" height="41" rx="7" fill="#fff" stroke="#f0f1f3" stroke-width="1.3"/>
<text x="2052.6" y="313" font-size="18.5" fill="#101010" textLength="37.2" lengthAdjust="spacingAndGlyphs" stroke="#101010" stroke-width="0.3">BTC</text>
<g clip-path="url(#cpT)">
<text x="122.5" y="1287" font-size="18" fill="#101010" textLength="34" lengthAdjust="spacingAndGlyphs" stroke="#101010" stroke-width="0.3">Sep</text>
<text x="299.75" y="1287" font-size="18" fill="#101010" textLength="35.5" lengthAdjust="spacingAndGlyphs" stroke="#101010" stroke-width="0.3">Nov</text>
<text x="636.5" y="1287" font-size="18" fill="#101010" textLength="34" lengthAdjust="spacingAndGlyphs" stroke="#101010" stroke-width="0.3">Mar</text>
<text x="813.25" y="1287" font-size="18" fill="#101010" textLength="36.5" lengthAdjust="spacingAndGlyphs" stroke="#101010" stroke-width="0.3">May</text>
<text x="997" y="1287" font-size="18" fill="#101010" textLength="25" lengthAdjust="spacingAndGlyphs" stroke="#101010" stroke-width="0.3">Jul</text>
<text x="1150.5" y="1287" font-size="18" fill="#101010" textLength="34" lengthAdjust="spacingAndGlyphs" stroke="#101010" stroke-width="0.3">Sep</text>
<text x="1327.75" y="1287" font-size="18" fill="#101010" textLength="35.5" lengthAdjust="spacingAndGlyphs" stroke="#101010" stroke-width="0.3">Nov</text>
<text x="1664.5" y="1287" font-size="18" fill="#101010" textLength="34" lengthAdjust="spacingAndGlyphs" stroke="#101010" stroke-width="0.3">Mar</text>
<text x="1841.25" y="1287" font-size="18" fill="#101010" textLength="36.5" lengthAdjust="spacingAndGlyphs" stroke="#101010" stroke-width="0.3">May</text>
<text x="2025" y="1287" font-size="18" fill="#101010" textLength="25" lengthAdjust="spacingAndGlyphs" stroke="#101010" stroke-width="0.3">Jul</text>
<text transform="translate(470.2 1287) scale(1.14 1)" font-size="18.6" font-weight="bold" fill="#101010" letter-spacing="1.1">2025</text>
<text transform="translate(1498.2 1287) scale(1.14 1)" font-size="18.6" font-weight="bold" fill="#101010" letter-spacing="1.1">2026</text>
</g>
<g transform="translate(1839.4 1236.25)"><circle r="15.7" fill="#fff" stroke="#951bb3" stroke-width="2"/><path d="M4.74 -8.5 L-7.07 1.34 H0.63 L-4.74 8.5 L7.25 -0.98 H-0.09 Z" fill="#951bb3"/></g>
<line x1="16" y1="279.3" x2="2188" y2="279.3" stroke="#ececec" stroke-width="1.2"/>
<rect x="16" y="43" width="2172" height="1258" fill="none" stroke="#f5f5f5" stroke-width="2"/>
<g fill="#111"><path d="M19 1337H38.8V1360.8H28.6V1345.8H19Z"/><circle cx="46.3" cy="1341.5" r="4.5"/><path d="M55.1 1337H66.7L58.5 1360.8H47Z"/></g>
<text x="78.3" y="1360.8" font-size="33.2" fill="#111" textLength="193.2" lengthAdjust="spacingAndGlyphs" font-weight="bold" stroke="#111" stroke-width="0.4">TradingView</text>
</svg>
</body></html>
